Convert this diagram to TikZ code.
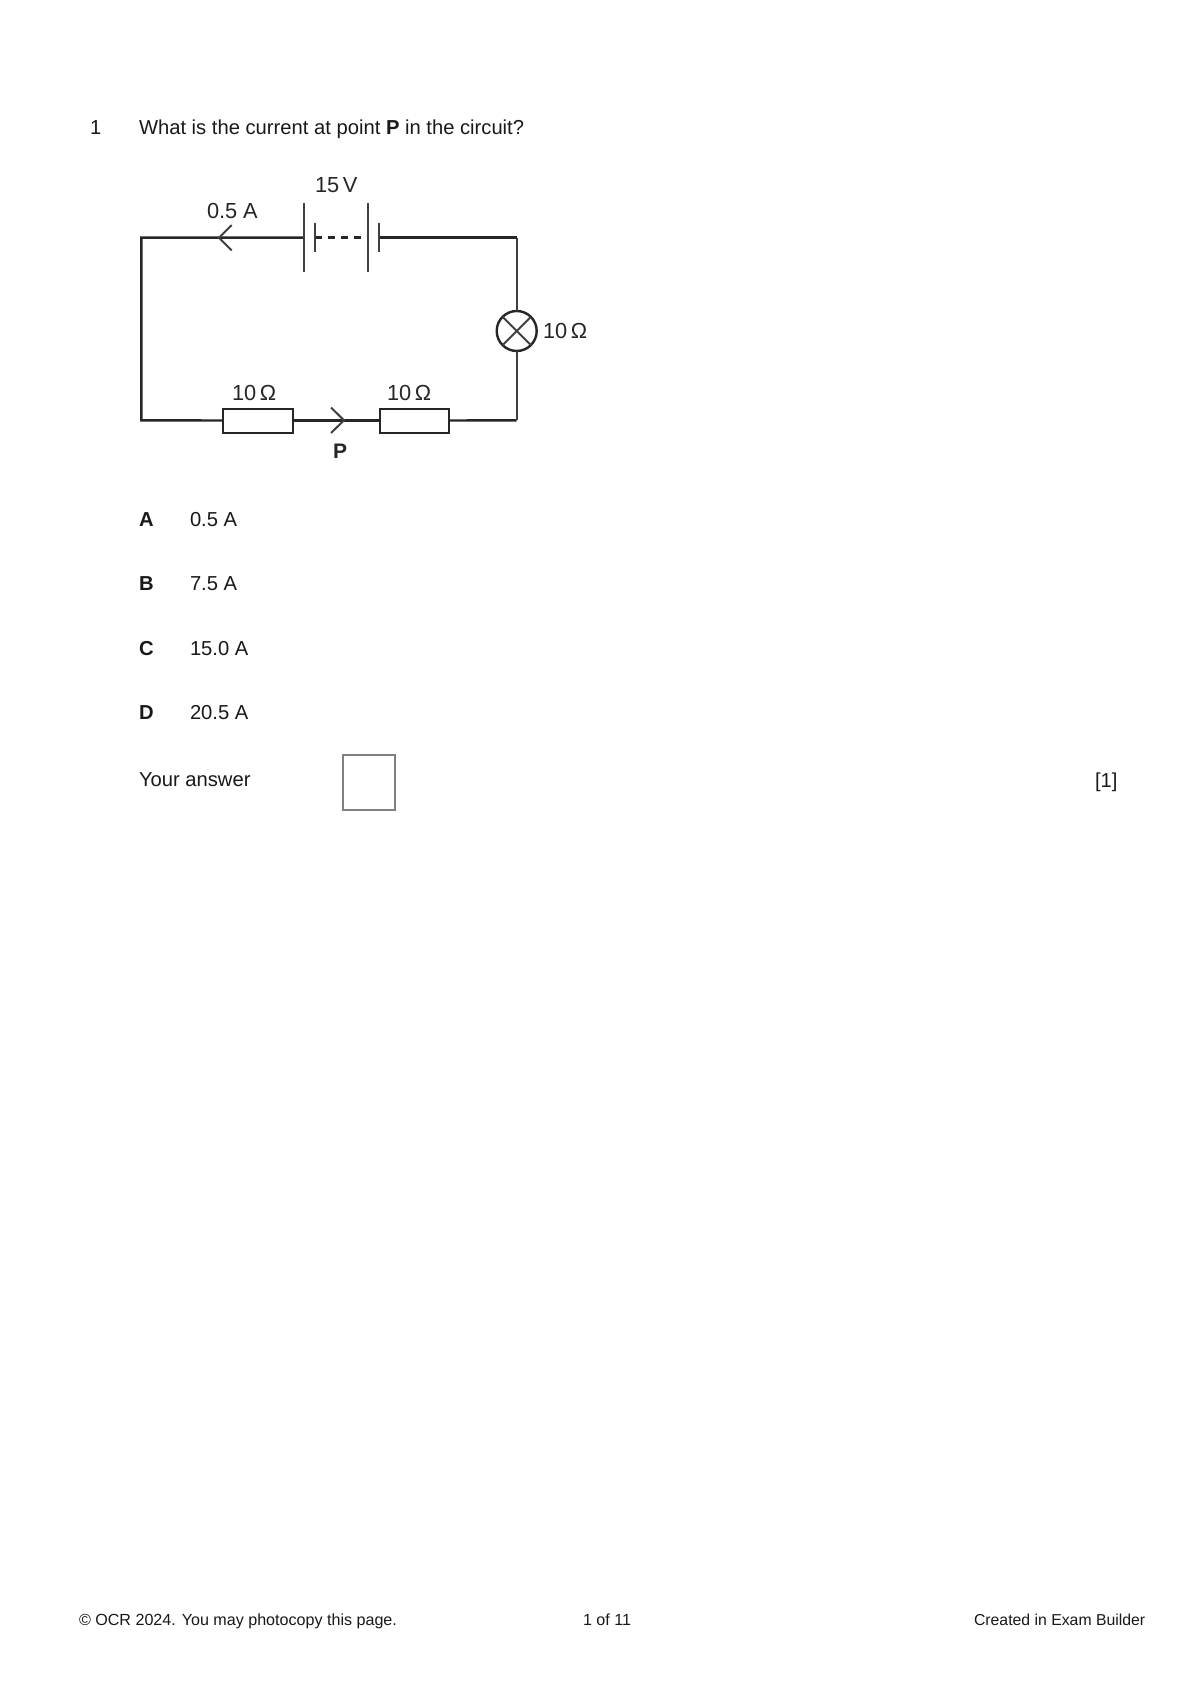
\documentclass[tikz,border=0pt]{standalone}
\usepackage{fontspec}
\setmainfont{Liberation Sans}
\tikzset{
  txt/.style={anchor=base west,inner sep=0pt,outer sep=0pt,font=\fontsize{20.2}{24}\selectfont,text=black!90},
  lab/.style={anchor=base west,inner sep=0pt,outer sep=0pt,font=\fontsize{21.8}{25}\selectfont,text=black!85},
  foot/.style={anchor=base west,inner sep=0pt,outer sep=0pt,font=\fontsize{16.1}{20}\selectfont,text=black!90},
  wire/.style={line width=2.4pt,black!85},
  thinwire/.style={line width=2pt,black!75},
  res/.style={draw=black!85,line width=2pt,fill=white,minimum width=#1,minimum height=24pt,inner sep=0pt,outer sep=0pt},
  lampnode/.style={circle,draw=black!85,line width=2.4pt,minimum size=40pt,inner sep=0pt,outer sep=0pt},
  ansbox/.style={draw=black!50,line width=1.5pt,minimum width=52pt,minimum height=55pt,inner sep=0pt,outer sep=0pt}
}
\begin{document}
\begin{tikzpicture}[x=1pt,y=-1pt]
\useasboundingbox[fill=white] (0,0) rectangle (1200,1696);
% question text
\node[txt] (qn) at (90,135) {1};
\node[txt] (q) at (139,135) {What is the current at point \textbf{P} in the circuit?};
% circuit anchors
\coordinate (tl) at (141.3,237.7);
\coordinate (tr) at (516.7,237.7);
\coordinate (bl) at (141.3,420.3);
\coordinate (br) at (516.7,420.3);
\coordinate (p1) at (303.7,237.7);
\coordinate (p1t) at (303.7,203);
\coordinate (p1b) at (303.7,271.7);
\coordinate (p2) at (315,237.7);
\coordinate (p2t) at (315,223);
\coordinate (p2b) at (315,252);
\coordinate (p3) at (368,237.7);
\coordinate (p3t) at (368,203);
\coordinate (p3b) at (368,271.7);
\coordinate (p4) at (379.3,237.7);
\coordinate (p4t) at (379.3,223);
\coordinate (p4b) at (379.3,252);
\node[res=70pt] (r1) at (257.7,420.5) {};
\node[res=69pt] (r2) at (414.8,420.5) {};
\node[lampnode] (lamp) at (516.7,331) {};
% wires
\draw[wire] (p1) -- (tl) -- (bl) -- (r1.west);
\draw[wire] (r1.east) -- (r2.west);
\draw[wire] (r2.east) -- (br);
\draw[thinwire] (br) -- (lamp.south);
\draw[thinwire] (lamp.north) -- (tr);
\draw[wire] (tr) -- (p4);
\draw[wire,dash pattern=on 7pt off 6pt] (p2) -- (p3);
% cells
\draw[thinwire] (p1t) -- (p1b);
\draw[thinwire] (p2t) -- (p2b);
\draw[thinwire] (p3t) -- (p3b);
\draw[thinwire] (p4t) -- (p4b);
% lamp cross
\draw[thinwire] (lamp.45) -- (lamp.225);
\draw[thinwire] (lamp.135) -- (lamp.315);
% current arrows
\coordinate (a1) at (219,237.7);
\coordinate (a1u) at (231.7,225);
\coordinate (a1d) at (231.7,250.5);
\coordinate (a2) at (344,420.3);
\coordinate (a2u) at (331,407.5);
\coordinate (a2d) at (331,433);
\draw[thinwire] (a1u) -- (a1) -- (a1d);
\draw[thinwire] (a2u) -- (a2) -- (a2d);
% circuit labels
\node[lab] (v) at (315,192.7) {15\,V};
\node[lab] (i) at (207,219) {0.5\kern5.8pt A};
\node[lab] (rl) at (543,338) {10\,Ω};
\node[lab] (ra) at (232,400.5) {10\,Ω};
\node[lab] (rb) at (387,400.5) {10\,Ω};
\node[lab,font=\fontsize{21}{25}\selectfont\bfseries] (pl) at (333,458) {P};
% options
\node[txt] (oa) at (139,526) {\textbf{A}};
\node[txt] (va) at (190,526) {0.5 A};
\node[txt] (ob) at (139,590) {\textbf{B}};
\node[txt] (vb) at (190,590) {7.5 A};
\node[txt] (oc) at (139,655) {\textbf{C}};
\node[txt] (vc) at (190,655) {15.0 A};
\node[txt] (od) at (139,719) {\textbf{D}};
\node[txt] (vd) at (190,719) {20.5 A};
\node[txt] (ya) at (139,786) {Your answer};
\node[ansbox] (box) at (369.2,782.5) {};
\node[txt] (mk) at (1095,787) {[1]};
% footer
\node[foot] (f1) at (79,1625) {© OCR 2024. You may photocopy this page.};
\node[foot] (f2) at (583,1625) {1 of 11};
\node[foot,font=\fontsize{15.8}{20}\selectfont] (f3) at (974,1625) {Created in Exam Builder};
\end{tikzpicture}
\end{document}
